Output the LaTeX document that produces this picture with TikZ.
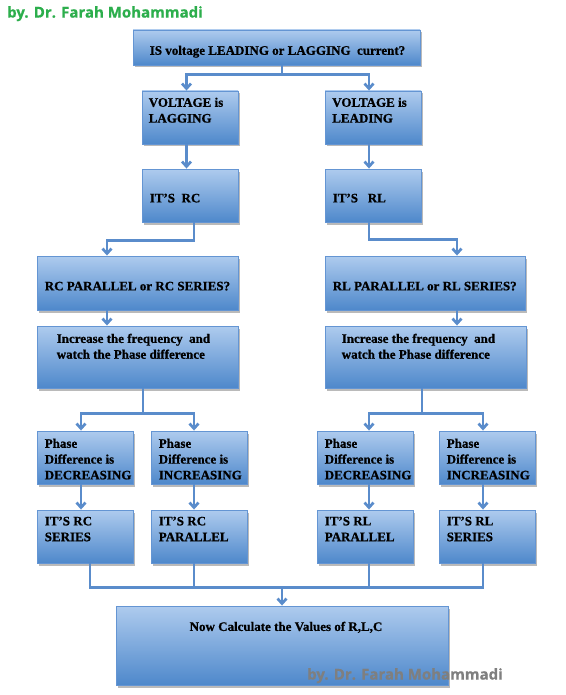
\documentclass[tikz,border=0pt]{standalone}
\usepackage{fontspec}
\setmainfont{Liberation Serif}[BoldFeatures={FakeBold=0.8}]
\newfontfamily\signfont{Open Sans}[BoldFeatures={FakeBold=0.6}]
\usetikzlibrary{arrows.meta,shadows}
\definecolor{boxtop}{HTML}{AECBEE}
\definecolor{boxbot}{HTML}{4E88CB}
\definecolor{boxedge}{HTML}{6495D3}
\definecolor{linkblue}{HTML}{5A8CCB}
\definecolor{signgreen}{HTML}{2CAE4C}
\definecolor{signgray}{HTML}{7F7F7F}
\tikzset{
  blk/.style={draw=boxedge, line width=0.9pt, top color=boxtop, bottom color=boxbot,
    drop shadow={shadow xshift=2pt, shadow yshift=-2.5pt, opacity=0.45, fill=black!60},
    inner sep=0pt},
  % box text, hung from the top left (tl) or top centre (tc) of its box
  tl/.style={font=\bfseries\fontsize{13}{15.8}\selectfont, align=left, inner sep=0pt,
    anchor=north west},
  tc/.style={tl, align=center, anchor=north},
  link/.style={draw=linkblue, line width=2.7pt},
  arr/.style={-{Straight Barb[length=5pt,width=9pt]}},
  sign/.style={font=\signfont\bfseries\fontsize{15}{18}\selectfont, inner sep=0pt,
    anchor=north west},
}

\begin{document}
\begin{tikzpicture}[x=1pt, y=-1pt]
  \useasboundingbox (0,0) rectangle (565,695);

  % boxes
  \node[blk, minimum width=287, minimum height=35] (q) at (276.5,47.5) {};
  \node[blk, minimum width=96, minimum height=53] (lag) at (190,117.5) {};
  \node[blk, minimum width=96, minimum height=53] (lead) at (373,117.5) {};
  \node[blk, minimum width=96, minimum height=53] (rc) at (190,195.5) {};
  \node[blk, minimum width=96, minimum height=53] (rl) at (373,195.5) {};
  \node[blk, minimum width=201, minimum height=54] (rcq) at (137.5,283) {};
  \node[blk, minimum width=200, minimum height=54] (rlq) at (425,283) {};
  \node[blk, minimum width=201, minimum height=62] (rcf) at (137.5,357) {};
  \node[blk, minimum width=201, minimum height=62] (rlf) at (425.5,357) {};
  \node[blk, minimum width=96, minimum height=53] (rcdec) at (85,457.5) {};
  \node[blk, minimum width=96, minimum height=53] (rcinc) at (199,457.5) {};
  \node[blk, minimum width=96, minimum height=53] (rldec) at (365,457.5) {};
  \node[blk, minimum width=96, minimum height=53] (rlinc) at (487,457.5) {};
  \node[blk, minimum width=96, minimum height=53] (rcser) at (85,536.5) {};
  \node[blk, minimum width=96, minimum height=53] (rcpar) at (199,536.5) {};
  \node[blk, minimum width=96, minimum height=53] (rlpar) at (365,536.5) {};
  \node[blk, minimum width=96, minimum height=53] (rlser) at (487,536.5) {};
  \node[blk, minimum width=332, minimum height=79] (calc) at (282,645.5) {};

  % box texts
  \node[tc] (qtx) at ([shift={(1pt,-16pt)}]q.north) {IS voltage LEADING or LAGGING\ \ current?};
  \node[tl] (lagtx) at ([shift={(7pt,-7pt)}]lag.north west) {VOLTAGE is\\LAGGING};
  \node[tl] (leadtx) at ([shift={(7.5pt,-7pt)}]lead.north west) {VOLTAGE is\\LEADING};
  \node[tl] (rctx) at ([shift={(8pt,-25pt)}]rc.north west) {IT’S\ \ RC};
  \node[tl] (rltx) at ([shift={(8pt,-25pt)}]rl.north west) {IT’S\ \ \ RL};
  \node[tl] (rcqtx) at ([shift={(8pt,-26pt)}]rcq.north west) {RC PARALLEL or RC SERIES?};
  \node[tl] (rlqtx) at ([shift={(8pt,-26pt)}]rlq.north west) {RL PARALLEL or RL SERIES?};
  \node[tl] (rcftx) at ([shift={(20pt,-8pt)}]rcf.north west) {Increase the frequency\ \ and\\watch the Phase difference};
  \node[tl] (rlftx) at ([shift={(17pt,-8pt)}]rlf.north west) {Increase the frequency\ \ and\\watch the Phase difference};
  \node[tl] (rcdectx) at ([shift={(8pt,-8pt)}]rcdec.north west) {Phase\\Difference is\\DECREASING};
  \node[tl] (rcinctx) at ([shift={(8pt,-8pt)}]rcinc.north west) {Phase\\Difference is\\INCREASING};
  \node[tl] (rldectx) at ([shift={(8pt,-8pt)}]rldec.north west) {Phase\\Difference is\\DECREASING};
  \node[tl] (rlinctx) at ([shift={(8pt,-8pt)}]rlinc.north west) {Phase\\Difference is\\INCREASING};
  \node[tl] (rcsertx) at ([shift={(8pt,-7pt)}]rcser.north west) {IT’S RC\\SERIES};
  \node[tl] (rcpartx) at ([shift={(8pt,-7pt)}]rcpar.north west) {IT’S RC\\PARALLEL};
  \node[tl] (rlpartx) at ([shift={(8pt,-7pt)}]rlpar.north west) {IT’S RL\\PARALLEL};
  \node[tl] (rlsertx) at ([shift={(8pt,-7pt)}]rlser.north west) {IT’S RL\\SERIES};
  \node[tc] (calctx) at ([shift={(4pt,-16pt)}]calc.north) {Now Calculate the Values of R,L,C};

  % connectors
  \draw[link, arr] ([xshift=5.5pt]q.south) -- ++(0,9) -| ([xshift=-3.5pt]lag.north);
  \draw[link, arr] ([xshift=5.5pt]q.south) -- ++(0,9) -| ([xshift=-4pt]lead.north);
  \draw[link, arr] ([xshift=-3.5pt]lag.south) -- ([xshift=-3.5pt]rc.north);
  \draw[link, arr] ([xshift=-4pt]lead.south) -- ([xshift=-4pt]rl.north);
  \draw[link, arr] ([xshift=4pt]rc.south) -- ++(0,18) -| ([xshift=-30.5pt]rcq.north);
  \draw[link, arr] ([xshift=-4pt]rl.south) -- ++(0,17) -| ([xshift=32pt]rlq.north);
  \draw[link, arr] ([xshift=-30.5pt]rcq.south) -- ([xshift=-30.5pt]rcf.north);
  \draw[link, arr] ([xshift=32pt]rlq.south) -- ([xshift=31.5pt]rlf.north);
  \draw[link, arr] ([xshift=5.5pt]rcf.south) -- ++(0,25) -| ([xshift=-4pt]rcdec.north);
  \draw[link, arr] ([xshift=5.5pt]rcf.south) -- ++(0,25) -| ([xshift=-5pt]rcinc.north);
  \draw[link, arr] ([xshift=-3.5pt]rlf.south) -- ++(0,25) -| ([xshift=4pt]rldec.north);
  \draw[link, arr] ([xshift=-3.5pt]rlf.south) -- ++(0,25) -| ([xshift=-4pt]rlinc.north);
  \draw[link, arr] ([xshift=-4pt]rcdec.south) -- ([xshift=-4pt]rcser.north);
  \draw[link, arr] ([xshift=-5pt]rcinc.south) -- ([xshift=-5pt]rcpar.north);
  \draw[link, arr] ([xshift=4pt]rldec.south) -- ([xshift=4pt]rlpar.north);
  \draw[link, arr] ([xshift=-4pt]rlinc.south) -- ([xshift=-4pt]rlser.north);
  % the four results meet on one line above the last box
  \coordinate (bus) at ([yshift=18pt]calc.north);
  \draw[link] ([xshift=5pt]rcser.south) |- (bus) -| ([xshift=-4pt]rlser.south);
  \draw[link] ([xshift=-5pt]rcpar.south) -- ++(0,25);
  \draw[link] ([xshift=4pt]rlpar.south) -- ++(0,25);
  \draw[link, arr] (bus) -- (calc.north);

  % signatures
  \node[sign, text=signgreen] (signtop) at (7,6) {by. Dr. Farah Mohammadi};
  \node[sign, text=signgray] (signbot) at (307,668) {by. Dr. Farah Mohammadi};
\end{tikzpicture}
\end{document}
